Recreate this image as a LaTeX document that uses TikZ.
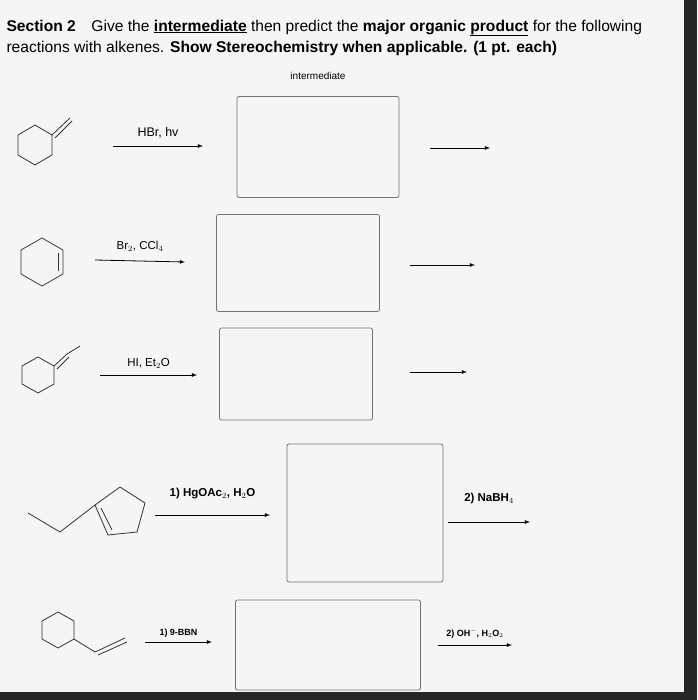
\documentclass[tikz,border=0pt]{standalone}
\usepackage{fontspec}
\setmainfont{Liberation Sans}
\begin{document}
\begin{tikzpicture}[x=1pt,y=-1pt,
  box/.style={draw=black!55,line width=0.8pt,rounded corners=2pt},
  rxn/.style={->,>=latex,line width=0.8pt},
  lbl/.style={font=\fontsize{12.5}{14}\selectfont,anchor=south},
  bond/.style={line width=0.8pt,black!80}]
\useasboundingbox (0,0) rectangle (697,700);
\fill[black!4] (0,0) rectangle (697,700);
\fill[black!85] (684,0) rectangle (697,700);
\fill[black!85] (0,692) rectangle (697,700);
% header
\node[anchor=west,font=\fontsize{15.6}{17}\selectfont] (h1) at (3,28) {\textbf{Section 2}\quad Give the \textbf{\underline{intermediate}} then predict the \textbf{major organic \underline{product}} for the following};
\node[anchor=west,font=\fontsize{15.6}{17}\selectfont] (h2) at (3,48) {reactions with alkenes. \textbf{Show Stereochemistry when applicable. (1 pt. each)}};
\node[font=\fontsize{10}{12}\selectfont] (int) at (318,76) {intermediate};
% boxes
\node[box,minimum width=162pt,minimum height=101pt] (b1) at (318,147) {};
\node[box,minimum width=163pt,minimum height=97pt] (b2) at (298,263) {};
\node[box,minimum width=153pt,minimum height=92pt] (b3) at (296,374) {};
\node[box,minimum width=156pt,minimum height=138pt] (b4) at (365,513) {};
\node[box,minimum width=185pt,minimum height=90pt] (b5) at (328,645) {};
% reaction arrows
\coordinate (a1s) at (113,146); \coordinate (a1e) at (203,146);
\draw[rxn] (a1s) -- node[lbl,above=4pt]{HBr, hv} (a1e);
\coordinate (p1s) at (430,148); \coordinate (p1e) at (490,148);
\draw[rxn] (p1s) -- (p1e);
\coordinate (a2s) at (95,260); \coordinate (a2e) at (185,262);
\draw[rxn] (a2s) -- node[lbl,above=6pt,font=\fontsize{11.5}{13}\selectfont]{Br$_2$, CCl$_4$} (a2e);
\coordinate (p2s) at (410,265); \coordinate (p2e) at (475,265);
\draw[rxn] (p2s) -- (p2e);
\coordinate (a3s) at (100,375); \coordinate (a3e) at (197,375);
\draw[rxn] (a3s) -- node[lbl,above=3pt,font=\fontsize{11.5}{13}\selectfont]{HI, Et$_2$O} (a3e);
\coordinate (p3s) at (410,372); \coordinate (p3e) at (467,372);
\draw[rxn] (p3s) -- (p3e);
\coordinate (a4s) at (155,515); \coordinate (a4e) at (270,515);
\draw[rxn] (a4s) -- node[lbl,above=12pt,font=\bfseries\fontsize{11.5}{13}\selectfont]{1) HgOAc$_2$, H$_2$O} (a4e);
\coordinate (p4s) at (448,522); \coordinate (p4e) at (530,522);
\draw[rxn] (p4s) -- node[lbl,above=14pt,font=\bfseries\fontsize{11.5}{13}\selectfont]{2) NaBH$_4$} (p4e);
\coordinate (a5s) at (145,642); \coordinate (a5e) at (212,642);
\draw[rxn] (a5s) -- node[lbl,above=1pt,font=\bfseries\fontsize{9}{11}\selectfont]{1) 9-BBN} (a5e);
\coordinate (p5s) at (438,645); \coordinate (p5e) at (512,645);
\draw[rxn] (p5s) -- node[lbl,above=3pt,font=\bfseries\fontsize{9}{11}\selectfont]{2) OH$^{-}$, H$_2$O$_2$} (p5e);
% molecule 1: methylenecyclohexane
\draw[bond] (35,125) -- (52,135) -- (52,155) -- (35,165) -- (18,155) -- (18,135) -- cycle;
\draw[bond] (52,135) -- (70,118);
\draw[bond] (55,138) -- (72,121);
% molecule 2: cyclohexene
\draw[bond] (42,238) -- (63,250) -- (63,274) -- (42,286) -- (21,274) -- (21,250) -- cycle;
\draw[bond] (58,253) -- (58,271);
% molecule 3: ethylidenecyclohexane
\draw[bond] (38,357) -- (54,366) -- (54,384) -- (38,393) -- (22,384) -- (22,366) -- cycle;
\draw[bond] (54,366) -- (67,354) -- (80,346);
\draw[bond] (57,369) -- (69,357);
% molecule 4: ethylcyclopentene
\draw[bond] (95,505) -- (120,487) -- (145,503) -- (137,532) -- (108,535) -- cycle;
\draw[bond] (101,508) -- (112,530);
\draw[bond] (95,505) -- (60,532) -- (28,513);
% molecule 5: allylcyclohexane
\draw[bond] (58,612) -- (74,621) -- (74,639) -- (58,648) -- (42,639) -- (42,621) -- cycle;
\draw[bond] (74,639) -- (95,652) -- (125,638);
\draw[bond] (98,655) -- (127,642);
\end{tikzpicture}
\end{document}
